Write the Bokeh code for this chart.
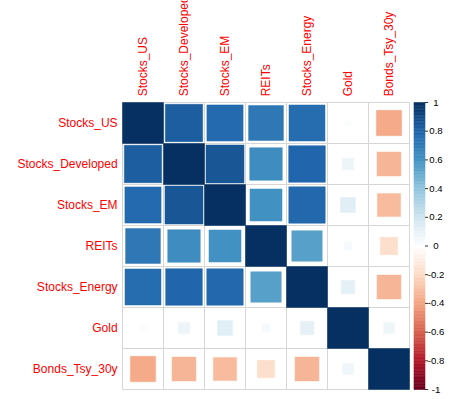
import math
from bokeh.plotting import figure
from bokeh.models import Range1d, ColumnDataSource
from bokeh.core.properties import value
from bokeh.embed import file_html
from bokeh.resources import INLINE

# ---- data ----
labels = ["Stocks_US", "Stocks_Developed", "Stocks_EM", "REITs",
          "Stocks_Energy", "Gold", "Bonds_Tsy_30y"]
row_stocks_us = [1.00, 0.83, 0.78, 0.72, 0.77, 0.02, -0.38]
row_stocks_developed = [0.83, 1.00, 0.86, 0.63, 0.80, 0.08, -0.34]
row_stocks_em = [0.78, 0.86, 1.00, 0.61, 0.79, 0.13, -0.32]
row_reits = [0.72, 0.63, 0.61, 1.00, 0.55, 0.04, -0.18]
row_stocks_energy = [0.77, 0.80, 0.79, 0.55, 1.00, 0.11, -0.34]
row_gold = [0.02, 0.08, 0.13, 0.04, 0.11, 1.00, 0.07]
row_bonds = [-0.38, -0.34, -0.32, -0.18, -0.34, 0.07, 1.00]
corr_rows = [row_stocks_us, row_stocks_developed, row_stocks_em, row_reits,
             row_stocks_energy, row_gold, row_bonds]
cbar_ticks = [1.0, 0.8, 0.6, 0.4, 0.2, 0.0, -0.2, -0.4, -0.6, -0.8, -1.0]
cbar_tick_labels = ["1", "0.8", "0.6", "0.4", "0.2", "0", "-0.2", "-0.4",
                    "-0.6", "-0.8", "-1"]

# ---- palette (corrplot RdBu) ----
anchors = ["#67001F", "#B2182B", "#D6604D", "#F4A582", "#FDDBC7", "#FFFFFF",
           "#D1E5F0", "#92C5DE", "#4393C3", "#2166AC", "#053061"]


def hex2rgb(h):
    return tuple(int(h[i:i + 2], 16) for i in (1, 3, 5))


anchor_rgb = [hex2rgb(a) for a in anchors]


def corr_color(v):
    t = (v + 1) / 2 * (len(anchors) - 1)
    i = min(int(math.floor(t)), len(anchors) - 2)
    f = t - i
    a, b = anchor_rgb[i], anchor_rgb[i + 1]
    c = [round(a[k] + (b[k] - a[k]) * f) for k in range(3)]
    return "#%02x%02x%02x" % tuple(c)


n = len(labels)
W, H = 474, 399
cell = 41.0
x0 = -122 / cell
y0 = -10 / cell

p = figure(width=W, height=H, output_backend="svg", toolbar_location=None,
           x_range=Range1d(x0, x0 + W / cell), y_range=Range1d(y0, y0 + H / cell),
           x_axis_location=None, y_axis_location=None, min_border=0,
           outline_line_color=None, background_fill_color="white",
           border_fill_color="white")
p.grid.visible = False

# grid cells
gx, gy = [], []
for i in range(n):
    for j in range(n):
        gx.append(j + 0.5)
        gy.append(n - i - 0.5)
p.rect(x=gx, y=gy, width=1, height=1, fill_color="white",
       line_color="#d6d6d6", line_width=1)

# squares
sx, sy, ss, sc = [], [], [], []
for i, row in enumerate(corr_rows):
    for j, v in enumerate(row):
        sx.append(j + 0.5)
        sy.append(n - i - 0.5)
        ss.append(math.sqrt(abs(v)))
        sc.append(corr_color(v))
src = ColumnDataSource(dict(x=sx, y=sy, s=ss, c=sc))
p.rect(x="x", y="y", width="s", height="s", fill_color="c", line_color="c",
       line_width=0.5, source=src)

# row labels
p.text(x=[-0.12] * n, y=[n - i - 0.5 for i in range(n)], text=labels,
       text_align="right", text_baseline="middle", text_color="#ff0000",
       text_font=value("Liberation Sans"), text_font_size=value("12px"))
# column labels
p.text(x=[j + 0.5 for j in range(n)], y=[n + 0.15] * n, text=labels,
       angle=math.pi / 2, text_align="left", text_baseline="middle",
       text_color="#ff0000", text_font=value("Liberation Sans"),
       text_font_size=value("12px"))

# colorbar
cb_left, cb_right = 7.11, 7.378
steps = 200
bottoms, tops, cols = [], [], []
for k in range(steps):
    v0 = -1 + 2 * k / steps
    v1 = -1 + 2 * (k + 1) / steps
    bottoms.append((v0 + 1) / 2 * n)
    tops.append((v1 + 1) / 2 * n)
    cols.append(corr_color((v0 + v1) / 2))
p.quad(left=cb_left, right=cb_right, bottom=bottoms, top=tops,
       fill_color=cols, line_color=cols, line_width=0.6)

ty = [(t + 1) / 2 * n for t in cbar_ticks]
p.segment(x0=[cb_right] * len(ty), x1=[cb_right + 0.075] * len(ty), y0=ty,
          y1=ty, line_color="#333333", line_width=1)
p.text(x=[7.646] * len(ty), y=ty, text=cbar_tick_labels, text_align="center",
       text_baseline="middle", text_color="#000000",
       text_font=value("Liberation Sans"), text_font_size=value("9.6px"))

open("out.html", "w").write(file_html(p, INLINE))
